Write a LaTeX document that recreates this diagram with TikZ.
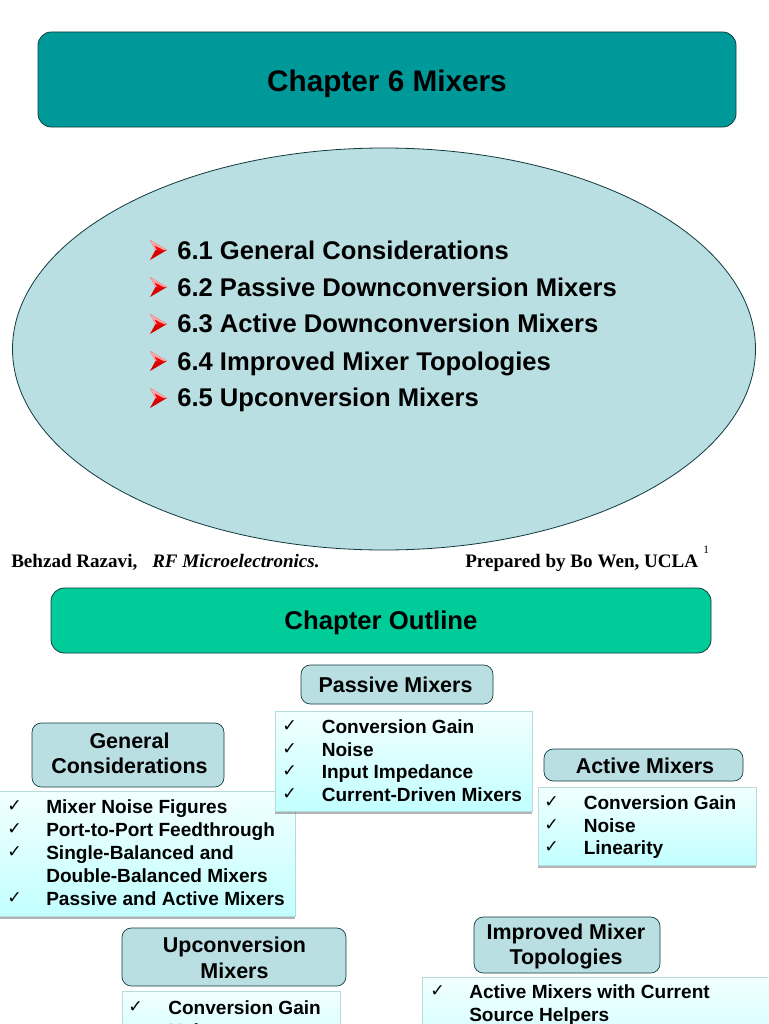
\documentclass[tikz,border=0pt]{standalone}
\usepackage{fontspec}
\setmainfont{Liberation Sans}
\newfontfamily\serifface{Liberation Serif}
\newfontfamily\tickface{DejaVu Sans}
\usetikzlibrary{shapes.geometric,shadows}
\definecolor{titleteal}{HTML}{009999}
\definecolor{outlinegreen}{HTML}{00CC99}
\definecolor{paleblue}{HTML}{B9DFE3}
\definecolor{edgedark}{HTML}{12393C}
\definecolor{listedge}{HTML}{B4DCDC}
\definecolor{listtop}{HTML}{F2FFFF}
\definecolor{listbot}{HTML}{C2FFFF}
\def\px{0.75pt}
\tikzset{
  x=0.75pt,y=-0.75pt,
  banner/.style={draw=edgedark,line width=0.6pt,rounded corners=10pt,inner sep=0pt},
  hdr/.style={draw=edgedark,line width=0.5pt,fill=paleblue,rounded corners=7pt,inner sep=0pt},
  hdrtext/.style={anchor=base,inner sep=0pt,text=black,font=\fontsize{16.1pt}{19pt}\selectfont\bfseries},
  lst/.style={draw=listedge,line width=0.4pt,top color=listtop,bottom color=listbot,inner sep=0pt,
    drop shadow={shadow xshift=0pt,shadow yshift=-2pt,opacity=0.4,fill=black!75}},
  item/.style={anchor=base west,inner sep=0pt,font=\fontsize{14.3pt}{17pt}\selectfont\bfseries,text=black},
  tick/.style={anchor=base west,inner sep=0pt,font=\fontsize{13pt}{16pt}\tickface,text=black},
  sec/.style={anchor=base west,inner sep=0pt,font=\fontsize{19.2pt}{22pt}\selectfont\bfseries,text=black},
  foot/.style={anchor=base west,inner sep=0pt,font=\fontsize{14.3pt}{16pt}\serifface\bfseries,text=black},
  bigtext/.style={anchor=base,inner sep=0pt,text=black},
  pics/arrowbullet/.style={code={
    \fill[red!85!black] (-8.5,-10) -- (8.5,0) -- (-8.5,10) -- (-3,0) -- cycle;
    \fill[red!35!white] (-8.5,-10) -- (8.5,0) -- (-3,0) -- cycle;
    \fill[red] (-4,-4.5) -- (5,0) -- (-1.5,0) -- cycle;
  }}
}
\begin{document}
\begin{tikzpicture}
\useasboundingbox (0,0) rectangle (768,1024);
\clip (0,0) rectangle (768,1024);
% title and ellipse
\node[banner,fill=titleteal,minimum width=698*\px,minimum height=95*\px] (title) at (387,79.5) {};
\node[bigtext,font=\fontsize{22.3pt}{26pt}\selectfont\bfseries] (titletext) at (387,91) {Chapter 6 Mixers};
\node[ellipse,draw=edgedark,line width=0.6pt,fill=paleblue,minimum width=743*\px,minimum height=402*\px,inner sep=0pt] (oval) at (384,349) {};
\pic at (158.5,250) {arrowbullet};
\pic at (158.5,287) {arrowbullet};
\pic at (158.5,324) {arrowbullet};
\pic at (158.5,361) {arrowbullet};
\pic at (158.5,398) {arrowbullet};
\node[sec] (s1) at (177,259) {6.1 General Considerations};
\node[sec] (s2) at (177,296) {6.2 Passive Downconversion Mixers};
\node[sec] (s3) at (177,332.5) {6.3 Active Downconversion Mixers};
\node[sec] (s4) at (177,370) {6.4 Improved Mixer Topologies};
\node[sec] (s5) at (177,406.5) {6.5 Upconversion Mixers};
% footer
\node[foot] (f1) at (11,567) {Behzad Razavi,};
\node[foot,font=\fontsize{14.3pt}{16pt}\serifface\bfseries\itshape] (f2) at (152,567) {RF Microelectronics.};
\node[foot] (f3) at (465,567) {Prepared by Bo Wen, UCLA};
\node[foot,font=\fontsize{8.5pt}{10pt}\serifface] (f4) at (703,553) {1};
% outline banner
\node[banner,fill=outlinegreen,minimum width=660*\px,minimum height=65*\px] (outline) at (381,620.5) {};
\node[bigtext,font=\fontsize{19.3pt}{22pt}\selectfont\bfseries] (outlinetext) at (381,629) {Chapter Outline};
% list panels
\node[lst,minimum width=296*\px,minimum height=125*\px] (genlist) at (147,853.5) {};
\node[lst,minimum width=257*\px,minimum height=100*\px] (passlist) at (403.5,761) {};
\node[lst,minimum width=218*\px,minimum height=78*\px] (actlist) at (647,826) {};
\node[lst,minimum width=218*\px,minimum height=80*\px] (uplist) at (231,1031) {};
\node[lst,minimum width=360*\px,minimum height=100*\px] (implist) at (602,1027) {};
% headers
\node[hdr,minimum width=192*\px,minimum height=39*\px] (passhdr) at (397,684.5) {};
\node[hdrtext] (pass1) at (395.5,692) {Passive Mixers};
\node[hdr,minimum width=192*\px,minimum height=64*\px] (genhdr) at (128,755) {};
\node[hdrtext] (gen1) at (129.5,748) {General};
\node[hdrtext] (gen2) at (129.5,773) {Considerations};
\node[hdr,minimum width=199*\px,minimum height=32*\px] (acthdr) at (643.5,765) {};
\node[hdrtext] (act1) at (645,773) {Active Mixers};
\node[hdr,minimum width=186*\px,minimum height=56*\px] (imphdr) at (567,945) {};
\node[hdrtext] (imp1) at (566,939.5) {Improved Mixer};
\node[hdrtext] (imp2) at (566,964.5) {Topologies};
\node[hdr,minimum width=224*\px,minimum height=58*\px] (uphdr) at (234,957) {};
\node[hdrtext] (up1) at (234.5,952) {Upconversion};
\node[hdrtext] (up2) at (234.5,978) {Mixers};
% passive
\node[tick] (pt1) at (282,731.5) {✓}; \node[item] (pi1) at (321.5,733) {Conversion Gain};
\node[tick] (pt2) at (282,754.5) {✓}; \node[item] (pi2) at (321.5,756) {Noise};
\node[tick] (pt3) at (282,776.5) {✓}; \node[item] (pi3) at (321.5,778) {Input Impedance};
\node[tick] (pt4) at (282,799.5) {✓}; \node[item] (pi4) at (321.5,801) {Current-Driven Mixers};
% general
\node[tick] (gt1) at (7,811.5) {✓}; \node[item] (gi1) at (46,813) {Mixer Noise Figures};
\node[tick] (gt2) at (7,834.5) {✓}; \node[item] (gi2) at (46,836) {Port-to-Port Feedthrough};
\node[tick] (gt3) at (7,857.5) {✓}; \node[item] (gi3) at (46,859) {Single-Balanced and};
\node[item] (gi4) at (46,882) {Double-Balanced Mixers};
\node[tick] (gt5) at (7,903.5) {✓}; \node[item] (gi5) at (46,905) {Passive and Active Mixers};
% active
\node[tick] (at1) at (544,807.5) {✓}; \node[item] (ai1) at (583.5,809) {Conversion Gain};
\node[tick] (at2) at (544,830.5) {✓}; \node[item] (ai2) at (583.5,832) {Noise};
\node[tick] (at3) at (544,852.5) {✓}; \node[item] (ai3) at (583.5,854) {Linearity};
% upconversion
\node[tick] (ut1) at (128,1012.5) {✓}; \node[item] (ui1) at (168,1014) {Conversion Gain};
\node[tick] (ut2) at (128,1035.5) {✓}; \node[item] (ui2) at (168,1037) {Noise};
% improved
\node[tick] (it1) at (430,996.5) {✓}; \node[item] (ii1) at (469,998) {Active Mixers with Current};
\node[item] (ii2) at (469,1021) {Source Helpers};
\end{tikzpicture}
\end{document}
